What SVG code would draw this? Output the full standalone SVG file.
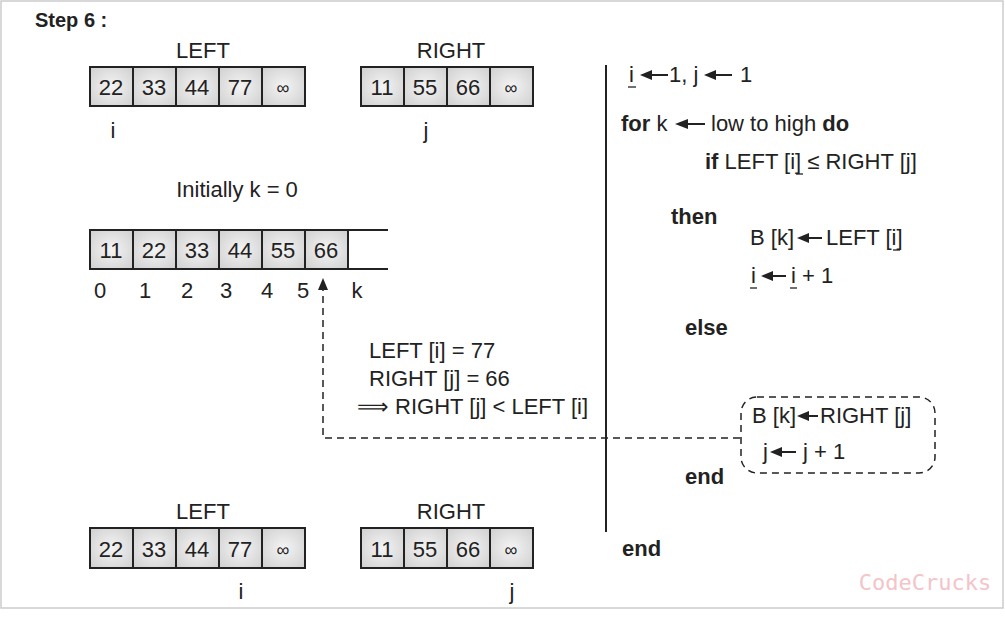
<svg xmlns="http://www.w3.org/2000/svg" width="1005" height="617" viewBox="0 0 1005 617">
<defs>
<radialGradient id="g" cx="50%" cy="50%" r="70%"><stop offset="0" stop-color="#f4f4f4"/><stop offset="1" stop-color="#cfcfcf"/></radialGradient>
<style>
text{font-family:"Liberation Sans",Arial,sans-serif;fill:#222;font-size:22px}
.c{fill:url(#g);stroke:#222;stroke-width:2}
.n{text-anchor:middle;font-size:22px}
.b{font-weight:bold}
.u{stroke:#222;stroke-width:1.3}
.a{stroke:#222;stroke-width:2}
.h{fill:#222}
</style>
</defs>
<rect x="1" y="1" width="1002" height="607" fill="#fff" stroke="#ccc" stroke-width="1.5"/>
<text x="35" y="27" class="b" style="font-size:20px">Step 6 :</text>

<g id="left-top">
<text x="203" y="58" class="n">LEFT</text>
<rect class="c" x="90" y="67" width="43" height="39"/><rect class="c" x="133" y="67" width="43" height="39"/><rect class="c" x="176" y="67" width="43" height="39"/><rect class="c" x="219" y="67" width="43" height="39"/><rect class="c" x="262" y="67" width="43" height="39"/>
<text x="111" y="95" class="n">22</text><text x="154" y="95" class="n">33</text><text x="197" y="95" class="n">44</text><text x="240" y="95" class="n">77</text><text x="283" y="94" class="n" style="font-size:18px">∞</text>
<text x="113" y="138" class="n">i</text>
</g>
<g id="right-top">
<text x="451" y="58" class="n">RIGHT</text>
<rect class="c" x="361" y="67" width="43" height="39"/><rect class="c" x="404" y="67" width="43" height="39"/><rect class="c" x="447" y="67" width="43" height="39"/><rect class="c" x="490" y="67" width="43" height="39"/>
<text x="382" y="95" class="n">11</text><text x="425" y="95" class="n">55</text><text x="468" y="95" class="n">66</text><text x="511" y="94" class="n" style="font-size:18px">∞</text>
<text x="426" y="138" class="n">j</text>
</g>
<g id="b-array">
<text x="237" y="197" class="n">Initially k = 0</text>
<line x1="90" y1="230" x2="388" y2="230" stroke="#222" stroke-width="2"/>
<line x1="90" y1="269" x2="388" y2="269" stroke="#222" stroke-width="2"/>
<rect class="c" x="90" y="230" width="43" height="39"/><rect class="c" x="133" y="230" width="43" height="39"/><rect class="c" x="176" y="230" width="43" height="39"/><rect class="c" x="219" y="230" width="43" height="39"/><rect class="c" x="262" y="230" width="43" height="39"/><rect class="c" x="305" y="230" width="43" height="39"/>
<text x="111" y="258" class="n">11</text><text x="154" y="258" class="n">22</text><text x="197" y="258" class="n">33</text><text x="240" y="258" class="n">44</text><text x="283" y="258" class="n">55</text><text x="326" y="258" class="n">66</text>
<text x="100" y="298" class="n">0</text><text x="145" y="298" class="n">1</text><text x="187" y="298" class="n">2</text><text x="226" y="298" class="n">3</text><text x="267" y="298" class="n">4</text><text x="303" y="298" class="n">5</text><text x="357" y="298" class="n">k</text>
</g>
<g id="compare">
<text x="369" y="358">LEFT [i] = 77</text>
<text x="369" y="386">RIGHT [j] = 66</text>
<text x="357" y="414">⟹ RIGHT [j] &lt; LEFT [i]</text>
</g>
<g id="left-bottom">
<text x="203" y="519" class="n">LEFT</text>
<rect class="c" x="90" y="528" width="43" height="40"/><rect class="c" x="133" y="528" width="43" height="40"/><rect class="c" x="176" y="528" width="43" height="40"/><rect class="c" x="219" y="528" width="43" height="40"/><rect class="c" x="262" y="528" width="43" height="40"/>
<text x="111" y="557" class="n">22</text><text x="154" y="557" class="n">33</text><text x="197" y="557" class="n">44</text><text x="240" y="557" class="n">77</text><text x="283" y="556" class="n" style="font-size:18px">∞</text>
<text x="241" y="599" class="n">i</text>
</g>
<g id="right-bottom">
<text x="451" y="519" class="n">RIGHT</text>
<rect class="c" x="361" y="528" width="43" height="40"/><rect class="c" x="404" y="528" width="43" height="40"/><rect class="c" x="447" y="528" width="43" height="40"/><rect class="c" x="490" y="528" width="43" height="40"/>
<text x="382" y="557" class="n">11</text><text x="425" y="557" class="n">55</text><text x="468" y="557" class="n">66</text><text x="511" y="556" class="n" style="font-size:18px">∞</text>
<text x="512" y="599" class="n">j</text>
</g>
<g id="code">
<line x1="606" y1="65" x2="606" y2="532" stroke="#222" stroke-width="2"/>
<text x="629" y="82">i</text><line class="u" x1="628" y1="87" x2="636" y2="87"/>
<text x="669" y="82">1, j</text><text x="740" y="82">1</text>
<text x="621" y="131"><tspan class="b">for</tspan> k</text>
<text x="711" y="131">low to high <tspan class="b">do</tspan></text>
<text x="705" y="169"><tspan class="b">if</tspan> LEFT [i]  ≤  RIGHT [j]</text><line class="u" x1="796" y1="174" x2="803" y2="174"/>
<text x="671" y="224" class="b">then</text>
<text x="750" y="245">B [k]</text><text x="826" y="245">LEFT [i]</text><line class="u" x1="893" y1="250" x2="900" y2="250"/>
<text x="751" y="283">i</text><line class="u" x1="750" y1="288" x2="757" y2="288"/>
<text x="791" y="283">i + 1</text><line class="u" x1="790" y1="288" x2="797" y2="288"/>
<text x="685" y="335" class="b">else</text>
<text x="752" y="423">B [k]</text><text x="820" y="423">RIGHT [j]</text>
<text x="763" y="459">j</text><text x="803" y="459">j + 1</text>
<text x="685" y="484" class="b">end</text>
<text x="622" y="556" class="b">end</text>
<g id="arrows">
<line class="a" x1="650" y1="75" x2="668" y2="75"/><path class="h" d="M640,75 L652,70 L652,80 Z"/>
<line class="a" x1="714" y1="75" x2="732" y2="75"/><path class="h" d="M704,75 L716,70 L716,80 Z"/>
<line class="a" x1="686" y1="124" x2="705" y2="124"/><path class="h" d="M675,124 L688,119 L688,129 Z"/>
<line class="a" x1="807" y1="238" x2="822" y2="238"/><path class="h" d="M797,238 L809,233 L809,243 Z"/>
<line class="a" x1="771" y1="276" x2="786" y2="276"/><path class="h" d="M761,276 L773,271 L773,281 Z"/>
<line class="a" x1="807" y1="416" x2="818" y2="416"/><path class="h" d="M797,416 L809,411 L809,421 Z"/>
<line class="a" x1="780" y1="452" x2="796" y2="452"/><path class="h" d="M770,452 L782,447 L782,457 Z"/>
</g>
</g>
<g id="connectors" fill="none" stroke="#222" stroke-width="1.5">
<rect x="741" y="397" width="194" height="76" rx="16" stroke-dasharray="7,5"/>
<path d="M740,438 H323 V288" stroke-dasharray="7,5"/>
<path d="M323,278 L318,290 L328,290 Z" fill="#222" stroke="none"/>
</g>
<text x="925" y="590" style="font-family:'DejaVu Sans Mono',monospace;font-size:22px;fill:#f3c4c8;text-anchor:middle">CodeCrucks</text>
</svg>
